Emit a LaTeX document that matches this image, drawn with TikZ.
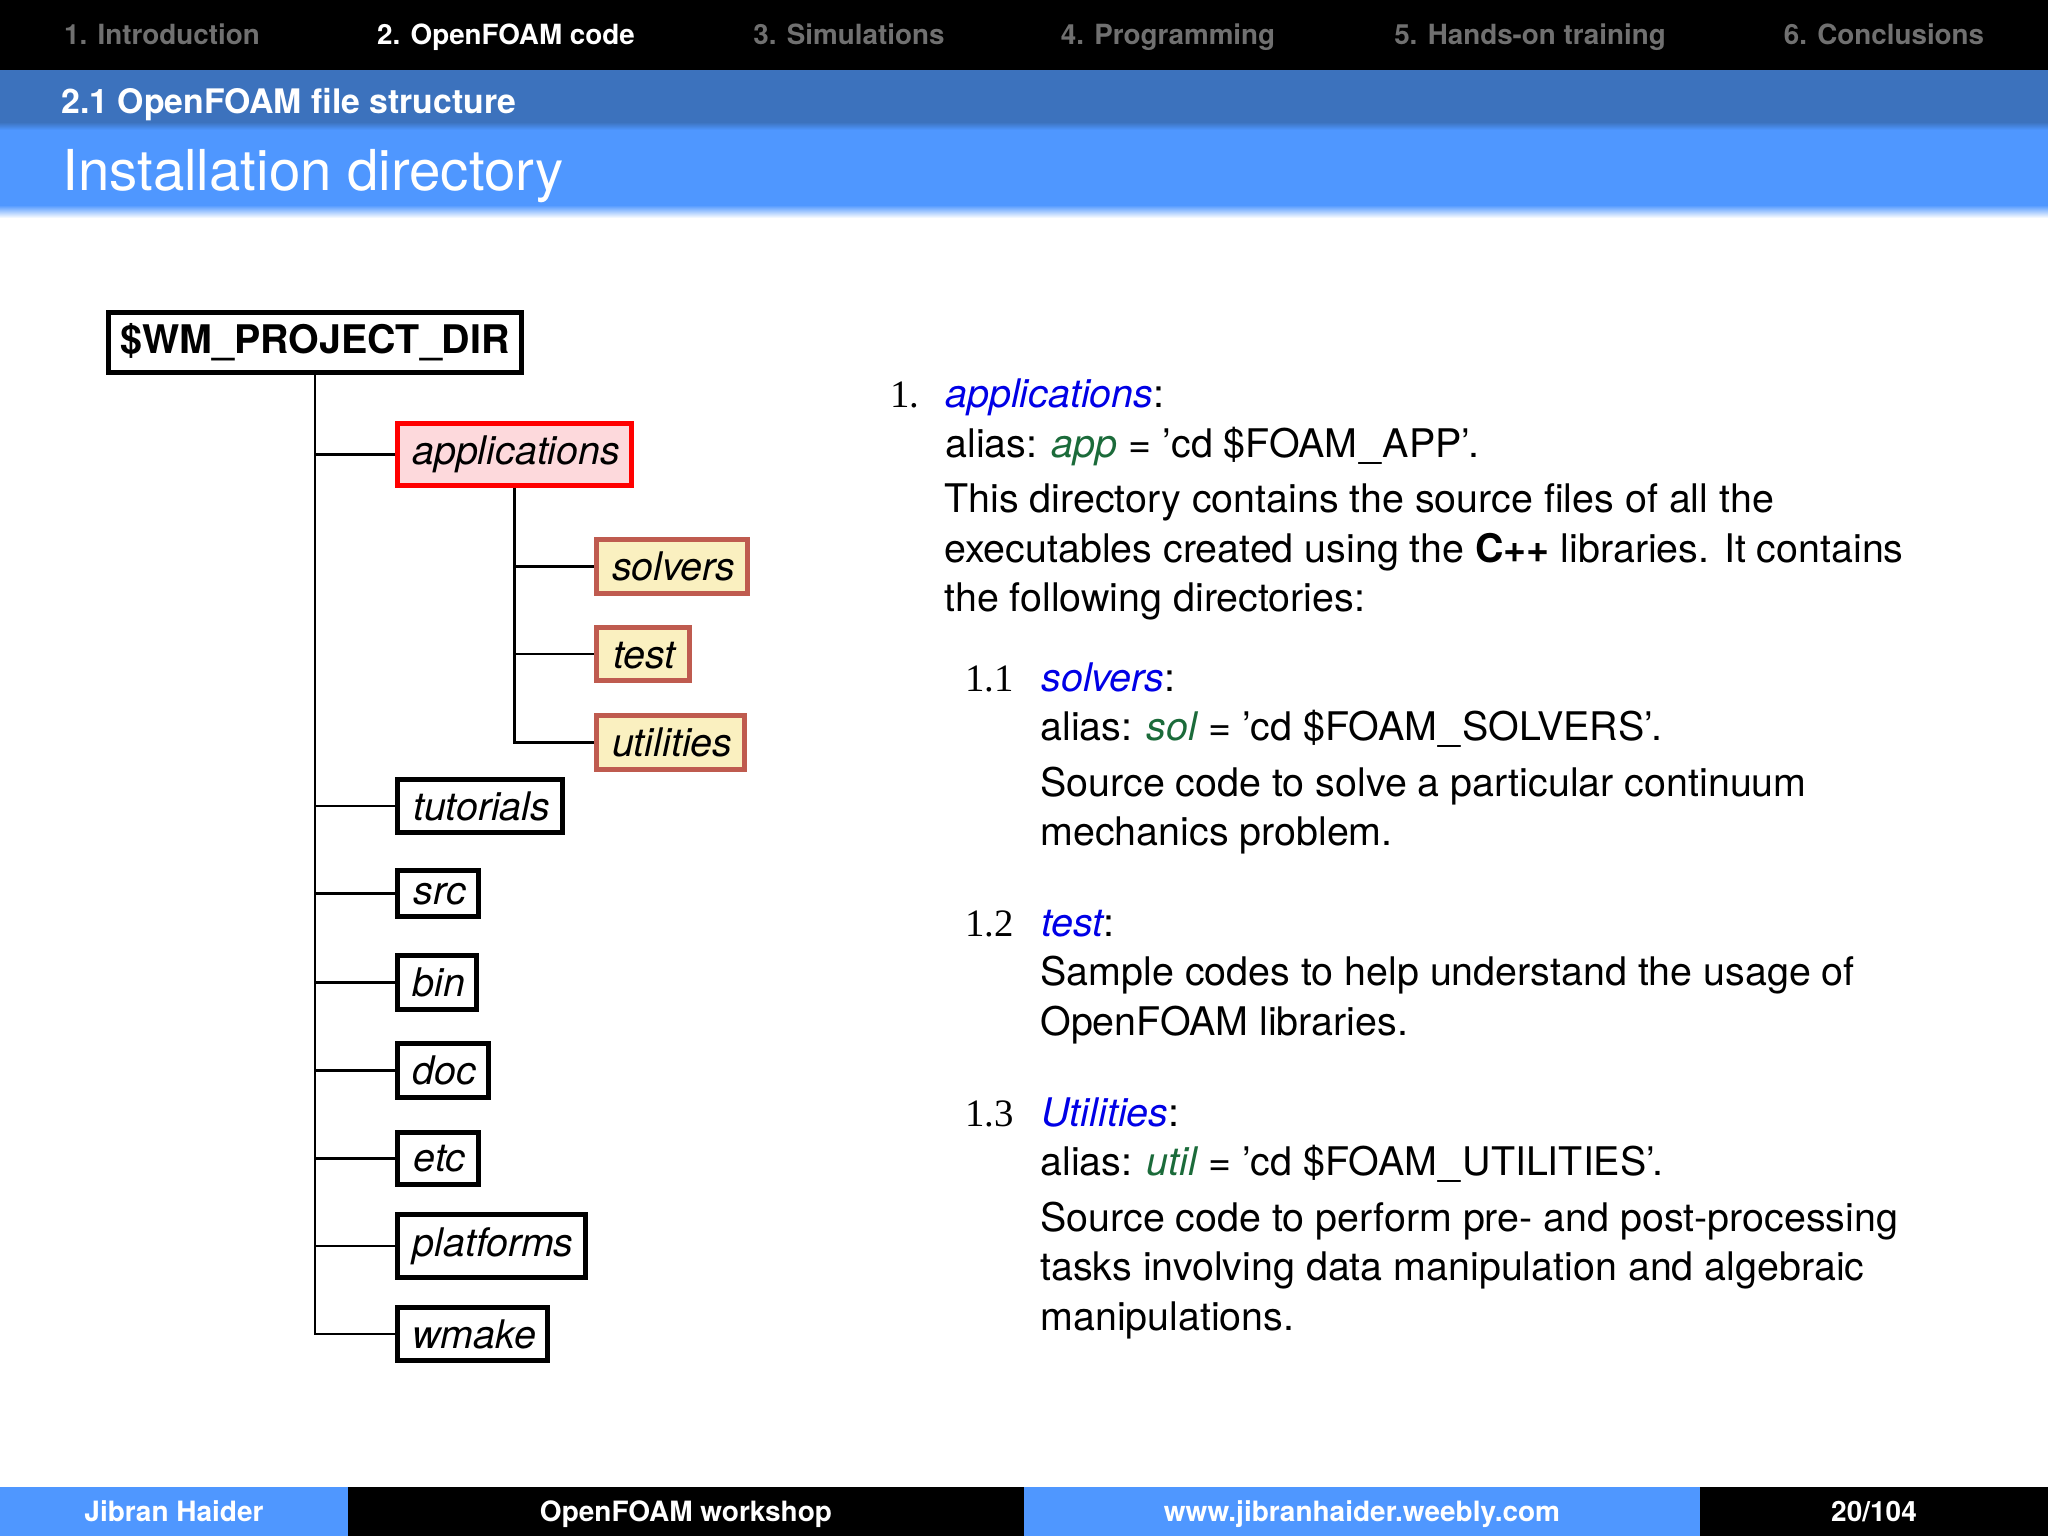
\documentclass[tikz,border=0pt]{standalone}
\usepackage{fontspec}
\setmainfont{TeX Gyre Heros}
\newfontfamily\numfont{Liberation Serif}
\definecolor{barblue}{HTML}{4F97FF}
\definecolor{secblue}{HTML}{3C72BD}
\definecolor{navgray}{HTML}{707070}
\definecolor{kwblue}{HTML}{0000E6}
\definecolor{kwgreen}{HTML}{1B6B3A}
\definecolor{pinkfill}{HTML}{FDD9DC}
\definecolor{creamfill}{HTML}{FAF0C0}
\definecolor{brownline}{HTML}{BF5B4F}
\newcommand{\bodysize}{\fontsize{19.7}{24}\selectfont}
\newcommand{\kwb}[1]{\textcolor{kwblue}{\itshape #1}}
\newcommand{\kwg}[1]{\textcolor{kwgreen}{\itshape #1}}
\newcommand{\uscore}{\kern0.9pt\_\kern0.9pt}
\newcommand{\nudge}{\hspace*{1.7pt}}
\newcommand{\lowered}[2]{\raisebox{-#1}[\height][0pt]{#2}}
\tikzset{
  x=0.5pt,y=-0.5pt,
  navtext/.style={anchor=base,inner sep=0pt,font=\fontsize{13.9}{16}\selectfont\bfseries,text=navgray},
  foottext/.style={anchor=base,inner sep=0pt,font=\fontsize{14}{16}\selectfont\bfseries,text=white},
  bodytext/.style={anchor=base west,inner sep=0pt,font=\bodysize},
  numtext/.style={anchor=base west,inner sep=0pt,font=\fontsize{19.4}{22}\selectfont\numfont},
  plainbox/.style={draw=black,fill=white,line width=2.4pt,inner sep=0pt,font=\bodysize\itshape},
  redbox/.style={plainbox,draw=red,fill=pinkfill},
  brownbox/.style={plainbox,draw=brownline,fill=creamfill},
  rootbox/.style={plainbox,font=\bodysize\bfseries},
  link/.style={draw=black,line width=1.25pt}
}
% name, style, x1, y1, x2, y2, text
\newcommand{\dirbox}[7]{%
  \pgfmathsetmacro{\bw}{(#5-#3-4.8)*0.5}%
  \pgfmathsetmacro{\bh}{(#6-#4-4.8)*0.5}%
  \node[#2,minimum width=\bw pt,minimum height=\bh pt] (#1) at ({(#3+#5)/2},{(#4+#6)/2}) {#7};}
\begin{document}
\begin{tikzpicture}
\useasboundingbox (0,0) rectangle (2048,1536);
\fill[white] (0,0) rectangle (2048,1536);
% header bars
\fill[black] (0,0) rectangle (2048,70);
\fill[secblue] (0,70) rectangle (2048,122);
\shade[top color=secblue,bottom color=barblue] (0,122) rectangle (2048,130);
\fill[barblue] (0,130) rectangle (2048,205);
\shade[top color=barblue,bottom color=white] (0,205) rectangle (2048,218);
% nav
\node[navtext] (n1) at (162,45) {1. Introduction};
\node[navtext,text=white] (n2) at (506,45) {2. OpenFOAM code};
\node[navtext] (n3) at (849,45) {3. Simulations};
\node[navtext] (n4) at (1168,45) {4. Programming};
\node[navtext] (n5) at (1530,45) {5. Hands-on training};
\node[navtext] (n6) at (1884,45) {6. Conclusions};
\node[anchor=base west,inner sep=0pt,text=white,font=\fontsize{16.9}{18}\selectfont\bfseries] (sec) at (61,113) {2.1 OpenFOAM file structure};
\node[anchor=base west,inner sep=0pt,text=white,font=\fontsize{28.2}{32}\selectfont] (title) at (62,190) {Installation directory};
% footer
\fill[barblue] (0,1487) rectangle (348,1536);
\fill[black] (348,1487) rectangle (1024,1536);
\fill[barblue] (1024,1487) rectangle (1700,1536);
\fill[black] (1700,1487) rectangle (2048,1536);
\node[foottext] (f1) at (174,1521) {Jibran Haider};
\node[foottext] (f2) at (686,1521) {OpenFOAM workshop};
\node[foottext] (f3) at (1362,1521) {www.jibranhaider.weebly.com};
\node[foottext] (f4) at (1874,1521) {20/104};
% tree
\dirbox{wm}{rootbox}{106}{310}{524}{375}{\$WM\_PROJECT\_DIR}
\dirbox{apps}{redbox}{395}{421}{634}{488}{\nudge applications}
\dirbox{solvers}{brownbox}{594}{537}{750}{596}{\nudge solvers}
\dirbox{test}{brownbox}{594}{625}{692}{683}{\nudge\lowered{0.7pt}{test}}
\dirbox{util}{brownbox}{594}{713}{747}{772}{\nudge utilities}
\dirbox{tut}{plainbox}{395}{777}{565}{835}{\nudge tutorials}
\dirbox{src}{plainbox}{395}{868}{481}{919}{\nudge\lowered{0.4pt}{src}}
\dirbox{bin}{plainbox}{395}{953}{479}{1012}{\nudge bin}
\dirbox{doc}{plainbox}{395}{1041}{491}{1100}{\nudge doc}
\dirbox{etc}{plainbox}{395}{1130}{481}{1187}{\nudge etc}
\dirbox{plat}{plainbox}{395}{1212}{588}{1280}{\nudge platforms}
\dirbox{wmake}{plainbox}{395}{1305}{550}{1363}{\nudge wmake}
\draw[link] (wm.south) -- (wm.south |- wmake.west) -- (wmake.west);
\foreach \t in {apps,tut,src,bin,doc,etc,plat}{\draw[link] (wm.south |- \t.west) -- (\t.west);}
\draw[link] (apps.south) -- (apps.south |- util.west) -- (util.west);
\foreach \t in {solvers,test}{\draw[link] (apps.south |- \t.west) -- (\t.west);}
% right text
\node[numtext] (m1) at (890,407) {1.};
\node[bodytext] (a1) at (945,407) {\kwb{applications}:};
\node[bodytext] (a2) at (945,457) {alias: \kwg{app} = ’cd \$FOAM\uscore APP’.};
\node[bodytext] (a3) at (944,512) {This directory contains the source files of all the};
\node[bodytext] (a4) at (944,562) {executables created using the \textbf{C++} libraries. It contains};
\node[bodytext] (a5) at (944,611) {the following directories:};
\node[numtext] (m2) at (965,691) {1.1};
\node[bodytext] (b1) at (1041,691) {\kwb{solvers}:};
\node[bodytext] (b2) at (1040,740) {alias: \kwg{sol} = ’cd \$FOAM\uscore SOLVERS’.};
\node[bodytext] (b3) at (1040,796) {Source code to solve a particular continuum};
\node[bodytext] (b4) at (1040,845) {mechanics problem.};
\node[numtext] (m3) at (965,936) {1.2};
\node[bodytext] (c1) at (1041,936) {\kwb{test}:};
\node[bodytext] (c2) at (1040,985) {Sample codes to help understand the usage of};
\node[bodytext] (c3) at (1040,1035) {OpenFOAM libraries.};
\node[numtext] (m4) at (965,1126) {1.3};
\node[bodytext] (d1) at (1041,1126) {\kwb{Utilities}:};
\node[bodytext] (d2) at (1040,1175) {alias: \kwg{util} = ’cd \$FOAM\uscore UTILITIES’.};
\node[bodytext] (d3) at (1040,1231) {Source code to perform pre- and post-processing};
\node[bodytext] (d4) at (1040,1280) {tasks involving data manipulation and algebraic};
\node[bodytext] (d5) at (1040,1330) {manipulations.};
\end{tikzpicture}
\end{document}
